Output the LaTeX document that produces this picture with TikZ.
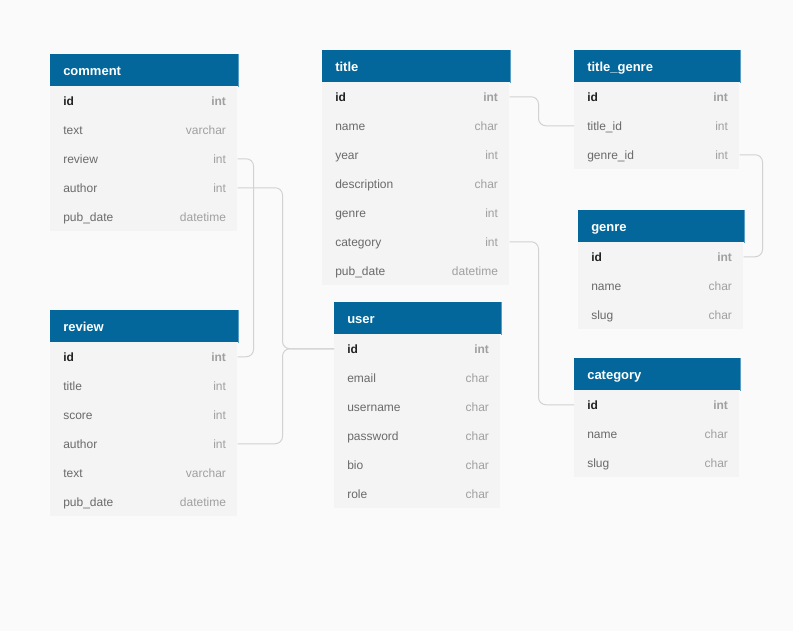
\documentclass[tikz,border=0pt]{standalone}
\usepackage{fontspec}
\setmainfont{Liberation Sans}
\definecolor{bgcol}{HTML}{FAFAFA}
\definecolor{hdrblue}{HTML}{03679B}
\definecolor{hdredgecol}{HTML}{5A9CC4}
\definecolor{rowfill}{HTML}{F4F4F4}
\definecolor{fldcol}{HTML}{6A6A6A}
\definecolor{idcol}{HTML}{222222}
\definecolor{typcol}{HTML}{A0A0A0}
\definecolor{conncol}{HTML}{D2D2D2}
\tikzset{
  hdrbox/.style={fill=hdrblue, draw=none, minimum height=24pt, inner sep=0pt, anchor=north west},
  hdredge/.style={draw=hdredgecol, line width=0.75pt},
  hdrtxt/.style={text=white, font=\bfseries\fontsize{9.75pt}{11pt}\selectfont, inner sep=0pt, text height=7pt, text depth=0pt, anchor=west},
  rowbox/.style={fill=rowfill, draw=none, minimum height=21.75pt, inner sep=0pt, anchor=north west},
  fldtxt/.style={text=fldcol, font=\fontsize{9pt}{11pt}\selectfont, inner sep=0pt, text height=6.5pt, text depth=0pt, anchor=west},
  idtxt/.style={text=idcol, font=\bfseries\fontsize{9pt}{11pt}\selectfont, inner sep=0pt, text height=6.5pt, text depth=0pt, anchor=west},
  typtxt/.style={text=typcol, font=\fontsize{9pt}{11pt}\selectfont, inner sep=0pt, text height=6.5pt, text depth=0pt, anchor=east},
  idtyp/.style={text=typcol, font=\bfseries\fontsize{9pt}{11pt}\selectfont, inner sep=0pt, text height=6.5pt, text depth=0pt, anchor=east},
  conn/.style={draw=conncol, line width=0.75pt, rounded corners=5.5pt}
}
% #1 name, #2 x, #3 y, #4 width(px), #5 title
\newcommand\erhead[5]{%
  \node[hdrbox, minimum width={#4*0.75pt}] (#1) at (#2,#3) {};
  \draw[hdredge] ([xshift=-0.375pt]#1.north east) -- ([xshift=-0.375pt]#1.south east);
  \node[hdrtxt] (#1-lbl) at ([xshift=9.75pt,yshift=-0.6pt]#1.west) {#5};}
% #1 name, #2 x, #3 y, #4 width, #5 field, #6 type
\newcommand\errow[6]{%
  \node[rowbox, minimum width={#4*0.75pt}] (#1) at (#2,#3) {};
  \node[fldtxt] (#1-f) at ([xshift=9.75pt]#1.west) {#5};
  \node[typtxt] (#1-t) at ([xshift=-8.5pt]#1.east) {#6};}
\newcommand\erid[6]{%
  \node[rowbox, minimum width={#4*0.75pt}] (#1) at (#2,#3) {};
  \node[idtxt] (#1-f) at ([xshift=9.75pt]#1.west) {#5};
  \node[idtyp] (#1-t) at ([xshift=-8.5pt]#1.east) {#6};}
\begin{document}
\begin{tikzpicture}[x=0.75pt,y=-0.75pt]
\fill[bgcol] (0,0) rectangle (793,631);
\useasboundingbox (0,0) rectangle (793,631);
% comment
\erhead{comment}{50}{54}{188}{comment}
\erid{comment-id}{50}{86}{187}{id}{int}
\errow{comment-text}{50}{115}{187}{text}{varchar}
\errow{comment-review}{50}{144}{187}{review}{int}
\errow{comment-author}{50}{173}{187}{author}{int}
\errow{comment-pubdate}{50}{202}{187}{pub\_date}{datetime}
% review
\erhead{review}{50}{310}{188}{review}
\erid{review-id}{50}{342}{187}{id}{int}
\errow{review-title}{50}{371}{187}{title}{int}
\errow{review-score}{50}{400}{187}{score}{int}
\errow{review-author}{50}{429}{187}{author}{int}
\errow{review-text}{50}{458}{187}{text}{varchar}
\errow{review-pubdate}{50}{487}{187}{pub\_date}{datetime}
% title
\erhead{title}{322}{50}{188}{title}
\erid{title-id}{322}{82}{187}{id}{int}
\errow{title-name}{322}{111}{187}{name}{char}
\errow{title-year}{322}{140}{187}{year}{int}
\errow{title-description}{322}{169}{187}{description}{char}
\errow{title-genre}{322}{198}{187}{genre}{int}
\errow{title-category}{322}{227}{187}{category}{int}
\errow{title-pubdate}{322}{256}{187}{pub\_date}{datetime}
% user
\erhead{user}{334}{302}{167}{user}
\erid{user-id}{334}{334}{166}{id}{int}
\errow{user-email}{334}{363}{166}{email}{char}
\errow{user-username}{334}{392}{166}{username}{char}
\errow{user-password}{334}{421}{166}{password}{char}
\errow{user-bio}{334}{450}{166}{bio}{char}
\errow{user-role}{334}{479}{166}{role}{char}
% title_genre
\erhead{tg}{574}{50}{166}{title\_genre}
\erid{tg-id}{574}{82}{165}{id}{int}
\errow{tg-titleid}{574}{111}{165}{title\_id}{int}
\errow{tg-genreid}{574}{140}{165}{genre\_id}{int}
% genre
\erhead{genre}{578}{210}{166}{genre}
\erid{genre-id}{578}{242}{165}{id}{int}
\errow{genre-name}{578}{271}{165}{name}{char}
\errow{genre-slug}{578}{300}{165}{slug}{char}
% category
\erhead{category}{574}{358}{166}{category}
\erid{category-id}{574}{390}{165}{id}{int}
\errow{category-name}{574}{419}{165}{name}{char}
\errow{category-slug}{574}{448}{165}{slug}{char}
% connectors
\draw[conn] (comment-review.east) -- ++(16,0) |- (review-id.east);
\draw[conn] (comment-author.east) -- ++(45,0) |- (user-id.west);
\draw[conn] (review-author.east) -- ++(45,0) |- (user-id.west);
\draw[conn] (title-id.east) -- ++(29,0) |- (tg-titleid.west);
\draw[conn] (tg-genreid.east) -- ++(23,0) |- (genre-id.east);
\draw[conn] (title-category.east) -- ++(29,0) |- (category-id.west);
\end{tikzpicture}
\end{document}
